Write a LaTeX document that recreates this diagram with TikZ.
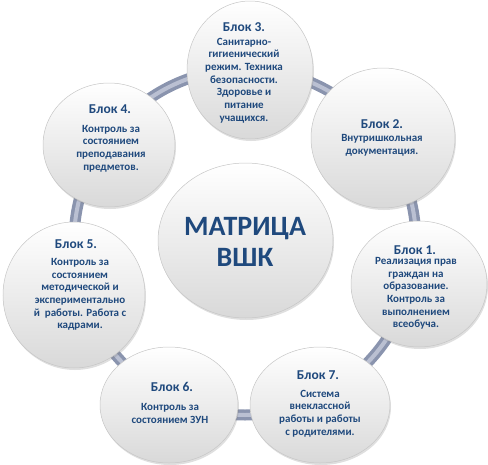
\documentclass[tikz,border=0pt]{standalone}
\usepackage{fontspec}
\setmainfont{Carlito}
\usetikzlibrary{shapes.geometric,shadows}
\definecolor{bleuvsk}{RGB}{31,73,125}
\definecolor{anneau}{RGB}{138,148,174}
\definecolor{anneauclair}{RGB}{186,192,210}
\begin{document}
\begin{tikzpicture}[x=1pt, y=-1pt,
    bloc/.style={ellipse, draw=gray!45, line width=0.5pt, inner sep=0pt,
        top color=white, bottom color=gray!30,
        drop shadow={opacity=0.25, shadow xshift=1pt, shadow yshift=-2pt}},
    titre/.style={text=bleuvsk, inner sep=0pt, font=\bfseries\fontsize{13.5}{15}\selectfont},
    texte/.style={text=bleuvsk, align=center, inner sep=0pt, font=\bfseries\fontsize{11}{12.7}\selectfont}]
    \useasboundingbox (0,0) rectangle (488,464);

    % Anneau
    \draw[anneau, line width=11pt] (245,242) ellipse [x radius=171, y radius=173];
    \draw[anneauclair, line width=4pt] (245,242) ellipse [x radius=171, y radius=173];

    % Cercle central
    \node[bloc, minimum width=175pt, minimum height=155pt] (matrice) at (245.5,240.5) {};
    \node[text=bleuvsk, align=center, font=\bfseries\fontsize{28}{31}\selectfont] (nom) at (245,241.5) {МАТРИЦА\\ВШК};

    % Blocs
    \node[bloc, minimum width=126pt, minimum height=138pt] (bloc3) at (250,70) {};
    \node[bloc, minimum width=144pt, minimum height=140pt] (bloc2) at (383,138) {};
    \node[bloc, minimum width=136pt, minimum height=126pt] (bloc1) at (419,284) {};
    \node[bloc, minimum width=140pt, minimum height=116pt] (bloc7) at (320,405) {};
    \node[bloc, minimum width=138pt, minimum height=116pt] (bloc6) at (169,405) {};
    \node[bloc, minimum width=142pt, minimum height=146pt] (bloc5) at (74,295) {};
    \node[bloc, minimum width=132pt, minimum height=124pt] (bloc4) at (109,145) {};

    % Textes
    \node[titre] (titre3) at (244,27) {Блок 3.};
    \node[texte] (texte3) at (244,80.5) {Санитарно-\\гигиенический\\режим. Техника\\безопасности.\\Здоровье и\\питание\\учащихся.};
    \node[titre] (titre2) at (382,124) {Блок 2.};
    \node[texte] (texte2) at (382,145.5) {Внутришкольная\\документация.};
    \node[titre] (titre1) at (415,250) {Блок 1.};
    \node[texte] (texte1) at (416,293.5) {Реализация прав\\граждан на\\образование.\\Контроль за\\выполнением\\всеобуча.};
    \node[titre] (titre7) at (318,375) {Блок 7.};
    \node[texte] (texte7) at (320,413.5) {Система\\внеклассной\\работы и работы\\с родителями.};
    \node[titre] (titre6) at (172,387) {Блок 6.};
    \node[texte] (texte6) at (170,413.5) {Контроль за\\состоянием ЗУН};
    \node[titre] (titre5) at (76,244) {Блок 5.};
    \node[texte] (texte5) at (80,294.5) {Контроль за\\состоянием\\методической и\\экспериментально\\й~ работы. Работа с\\кадрами.};
    \node[titre] (titre4) at (110,109) {Блок 4.};
    \node[texte] (texte4) at (111,148.5) {Контроль за\\состоянием\\преподавания\\предметов.};
\end{tikzpicture}
\end{document}
